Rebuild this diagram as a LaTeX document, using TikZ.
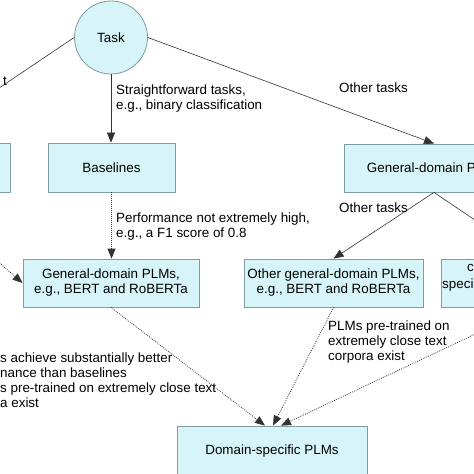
\documentclass[tikz,border=0pt]{standalone}
\usepackage{fontspec}
\setmainfont{Liberation Sans}
\usetikzlibrary{arrows.meta}
\definecolor{boxfill}{HTML}{D7F4F8}
\definecolor{boxline}{HTML}{7F9BA3}
\definecolor{lineclr}{HTML}{333333}
\tikzset{
 txt/.style={font=\fontsize{13.4}{15}\selectfont},
 box/.style={txt, draw=boxline, fill=boxfill, line width=0.8pt, rectangle, align=center, inner sep=0pt},
 lbl/.style={txt, anchor=north west, inner sep=0pt, align=left, text=black},
 solidarrow/.style={draw=lineclr, line width=0.6pt, -{Triangle[length=10pt,width=8pt]}},
 dotarrow/.style={draw=lineclr, line width=0.8pt, dash pattern=on 0.8pt off 1.2pt, -{Triangle[length=10pt,width=8pt]}},
}
\begin{document}
\begin{tikzpicture}[x=1pt,y=-1pt]
\useasboundingbox (0,0) rectangle (474,474);
\clip (0,0) rectangle (474,474);
\fill[white] (0,0) rectangle (474,474);
% nodes
\node[txt, circle, draw=boxline, fill=boxfill, line width=0.8pt, minimum size=73pt, inner sep=0pt] (task) at (111,37.5) {Task};
\node[box, minimum width=184pt, minimum height=49pt] (left) at (-82,167.5) {};
\node[box, minimum width=127pt, minimum height=49pt] (base) at (111.5,167.5) {Baselines};
\node[box, minimum width=180pt, minimum height=48pt] (gen) at (434,168) {General-domain PLMs};
\node[box, minimum width=176pt, minimum height=48pt] (gpl) at (111,283) {General-domain PLMs,\\e.g., BERT and RoBERTa};
\node[box, minimum width=179pt, minimum height=48pt] (ogp) at (333.5,283) {Other general-domain PLMs,\\e.g., BERT and RoBERTa};
\node[box, minimum width=182pt, minimum height=48pt] (rbox) at (532,283) {};
\node[lbl] (rtxt1) at (467,264) {c};
\node[lbl] (rtxt2) at (442,279) {speci};
\node[box, minimum width=190pt, minimum height=50pt] (dom) at (272,451) {Domain-specific PLMs};
% connectors
\draw[solidarrow] (task.west) -- (left.north);
\draw[solidarrow] (task.south) -- (task.south |- base.north);
\draw[solidarrow] (task.east) -- (gen.north);
\draw[dotarrow] (base.south) -- (base.south |- gpl.north);
\draw[dotarrow] (left.south) -- (gpl.west);
\draw[solidarrow] (gen.south) -- (ogp.north);
\draw[solidarrow] (gen.south) -- (rbox.north);
\draw[dotarrow] (gpl.south) -- ([xshift=-7pt]dom.north);
\draw[dotarrow] (ogp.south) -- ([xshift=1pt]dom.north);
\draw[dotarrow] (rbox.south) -- ([xshift=9pt]dom.north);
% labels
\node[lbl, anchor=north east] (lt) at (7,77) {t};
\node[lbl] (l1) at (116,85) {Straightforward tasks,\\e.g., binary classification};
\node[lbl] (l2) at (339,83) {Other tasks};
\node[lbl] (l3) at (116,213) {Performance not extremely high,\\e.g., a F1 score of 0.8};
\node[lbl] (l4) at (339,203) {Other tasks};
\node[lbl] (l5) at (328,321) {PLMs pre-trained on\\extremely close text\\corpora exist};
\node[lbl] (l6) at (0,353) {s achieve substantially better\\nance than baselines\\s pre-trained on extremely close text\\a exist};
\end{tikzpicture}
\end{document}
